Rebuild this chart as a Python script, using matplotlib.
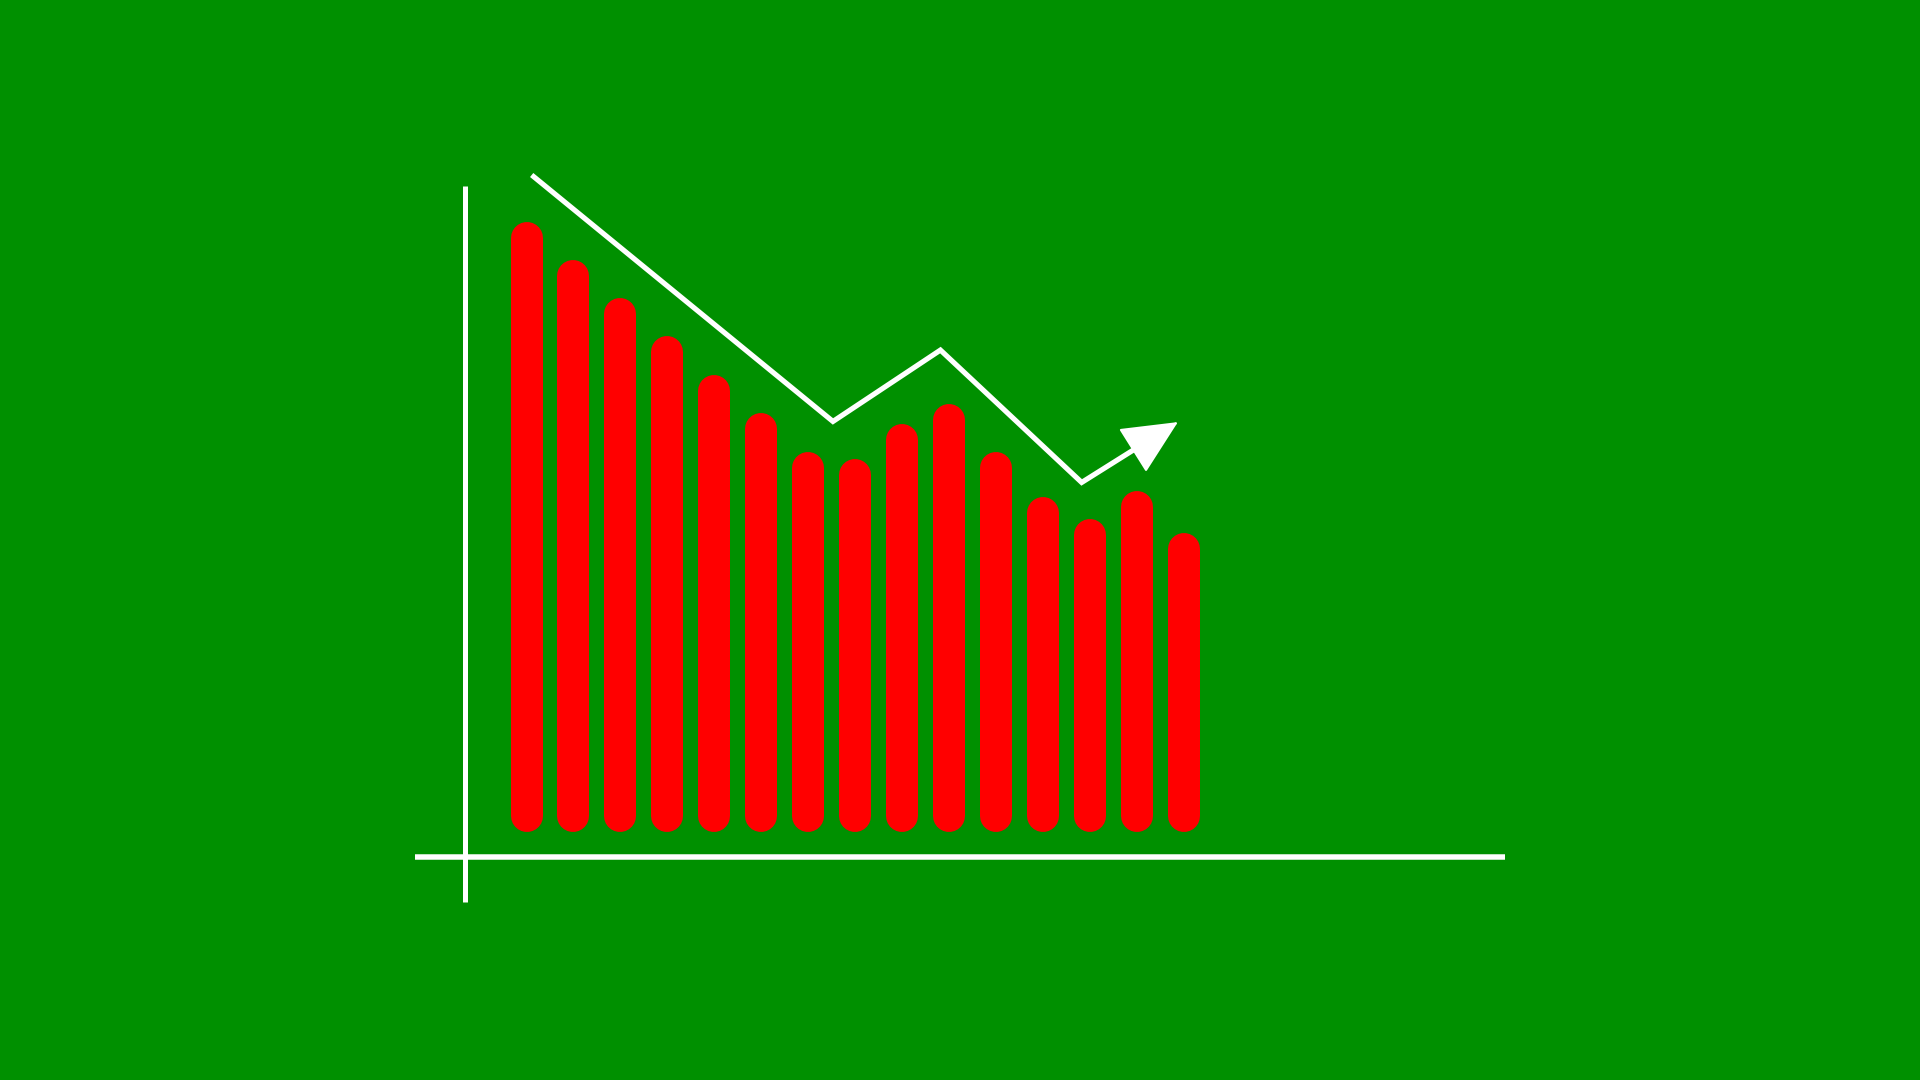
import numpy as np
import matplotlib
matplotlib.use("Agg")
import matplotlib.pyplot as plt

# ---- data ----
bar_index = list(range(15))
bar_values = [100.0, 93.8, 87.5, 81.3, 74.9, 68.7, 62.3, 61.1, 66.9, 70.2,
              62.3, 54.9, 51.3, 55.9, 49.0]
trend_x = [0.11, 6.53, 8.82, 11.83]
trend_y = [107.7, 67.3, 79.0, 57.3]
arrow_tip = (13.88, 67.2)

BG = "#009000"
RED = "#ff0000"
WHITE = "#ffffff"
DPI = 100

fig = plt.figure(figsize=(19.2, 10.8), dpi=DPI)
fig.patch.set_facecolor(BG)
ax = fig.add_axes([0, 0, 1, 1])
ax.set_facecolor(BG)
ax.set_xlim(-11.219, 29.693)
ax.set_ylim(-40.66, 136.39)

# axes lines via spines
ax.spines["top"].set_visible(False)
ax.spines["right"].set_visible(False)
ax.spines["left"].set_position(("data", -1.30))
ax.spines["left"].set_bounds(-11.56, 105.9)
ax.spines["left"].set_linewidth(5 * 72 / DPI)
ax.spines["left"].set_color(WHITE)
ax.spines["left"].set_capstyle("butt")
ax.spines["bottom"].set_position(("data", -4.1))
ax.spines["bottom"].set_bounds(-2.376, 20.849)
ax.spines["bottom"].set_linewidth(5.5 * 72 / DPI)
ax.spines["bottom"].set_color(WHITE)
ax.spines["bottom"].set_capstyle("butt")
ax.tick_params(left=False, bottom=False, labelleft=False, labelbottom=False)

# rounded bars
fig.canvas.draw()
px_per_unit = ax.transData.transform((0, 1))[1] - ax.transData.transform((0, 0))[1]
bar_px = 32
r = (bar_px / 2) / px_per_unit
ax.vlines(bar_index, [r] * len(bar_values), [v - r for v in bar_values],
          colors=RED, linewidth=bar_px * 72 / DPI, capstyle="round", zorder=2)

# trend line with arrow
lw = 5.2 * 72 / DPI
sx = trend_x[-1] + 0.6 * (arrow_tip[0] - trend_x[-1])
sy = trend_y[-1] + 0.6 * (arrow_tip[1] - trend_y[-1])
ax.plot(trend_x + [sx], trend_y + [sy], color=WHITE, lw=lw,
        solid_joinstyle="miter", solid_capstyle="butt", zorder=3)
ax.annotate("", xy=arrow_tip, xytext=(sx, sy),
            arrowprops=dict(arrowstyle="-|>,head_length=36,head_width=17",
                            mutation_scale=1, lw=1.5, color=WHITE,
                            shrinkA=0, shrinkB=0), zorder=3)

fig.savefig("out.png", dpi=DPI, facecolor=BG)
